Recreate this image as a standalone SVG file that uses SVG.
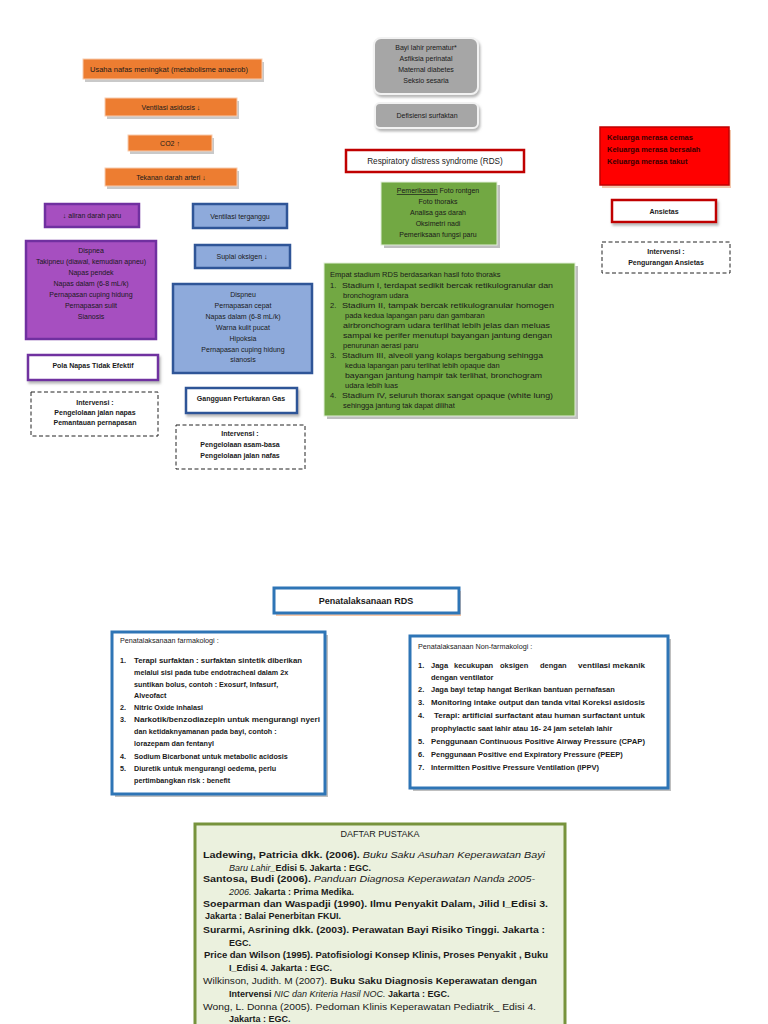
<svg xmlns="http://www.w3.org/2000/svg" width="768" height="1024" viewBox="0 0 768 1024">
<style>
text{font-family:"Liberation Sans","DejaVu Sans",sans-serif;fill:#1a1a1a}
.s7{font-size:7px}
.s75{font-size:7.5px}
.c{text-anchor:middle}
.b{font-weight:bold}
.i{font-style:italic}
.orange{fill:#ed7d31;stroke:#f8cbad;stroke-width:1}
.oshadow{fill:#c9c9c9}
.purple{fill:#a64fc0;stroke:#7030a0;stroke-width:2.5}
.pw{fill:#fff;stroke:#7030a0;stroke-width:2.5}
.blue{fill:#8eaadb;stroke:#2f5597;stroke-width:2.5}
.bw{fill:#fff;stroke:#2f5597;stroke-width:2.5}
.dash{fill:#fff;stroke:#222;stroke-width:1;stroke-dasharray:4 2.5}
.gray{fill:#a6a6a6;stroke:#f2f2f2;stroke-width:2}
.green{fill:#72a843;stroke:#e2efd9;stroke-width:1}
.gshadow{fill:#bfbfbf}
.rw{fill:#fff;stroke:#c00000;stroke-width:2.5}
.pen{fill:#fff;stroke:#2e75b6;stroke-width:3}
.dp{font-size:9px}
.kel{fill:#3a0000;font-weight:bold}
</style>
<defs>
<filter id="sh" x="-10%" y="-10%" width="130%" height="140%">
<feDropShadow dx="1.5" dy="2.5" stdDeviation="1.2" flood-color="#888" flood-opacity="0.6"/>
</filter>
</defs>

<g id="connectors"></g>

<!-- Orange chain -->
<g id="n-usaha">
<rect class="oshadow" x="85" y="62" width="179" height="20"/>
<rect class="orange" x="83" y="59" width="179" height="20"/>
<text class="s75" x="90" y="72">Usaha nafas meningkat (metabolisme anaerob)</text>
</g>
<g id="n-ventilasi-asidosis">
<rect class="oshadow" x="107" y="101" width="132" height="18"/>
<rect class="orange" x="105" y="98" width="132" height="18"/>
<text class="s7 c" x="171" y="110">Ventilasi asidosis ↓</text>
</g>
<g id="n-co2">
<rect class="oshadow" x="130" y="138" width="84" height="16"/>
<rect class="orange" x="128" y="135" width="84" height="16"/>
<text class="s7 c" x="170" y="146">CO2 ↑</text>
</g>
<g id="n-tekanan">
<rect class="oshadow" x="107" y="171" width="132" height="18"/>
<rect class="orange" x="105" y="168" width="132" height="18"/>
<text class="s7 c" x="171" y="180">Tekanan darah arteri ↓</text>
</g>

<!-- Purple column -->
<g id="n-aliran">
<rect class="purple" x="45" y="204" width="94" height="23"/>
<text class="s7 c" x="92" y="218">↓ aliran darah paru</text>
</g>
<g id="n-gejala-purple">
<rect class="purple" x="26" y="241" width="130" height="98"/>
<text class="s7 c" x="91" y="253">Dispnea</text>
<text class="s7 c" x="91" y="264">Takipneu (diawal, kemudian apneu)</text>
<text class="s7 c" x="91" y="275">Napas pendek</text>
<text class="s7 c" x="91" y="286">Napas dalam (6-8 mL/k)</text>
<text class="s7 c" x="91" y="297">Pernapasan cuping hidung</text>
<text class="s7 c" x="91" y="308">Pernapasan sulit</text>
<text class="s7 c" x="91" y="319">Sianosis</text>
</g>
<g id="n-pola-napas">
<rect class="pw" x="28" y="355" width="130" height="25" filter="url(#sh)"/>
<text class="s7 c b" x="93" y="368">Pola Napas Tidak Efektif</text>
</g>
<g id="n-intervensi-1">
<rect class="dash" x="31" y="392" width="127" height="44"/>
<text class="s7 c b" x="95" y="405">Intervensi :</text>
<text class="s7 c b" x="95" y="415">Pengelolaan jalan napas</text>
<text class="s7 c b" x="95" y="425">Pemantauan pernapasan</text>
</g>

<!-- Blue column -->
<g id="n-ventilasi-terganggu">
<rect class="blue" x="193" y="204" width="94" height="24"/>
<text class="s7 c" x="240" y="219">Ventilasi terganggu</text>
</g>
<g id="n-suplai">
<rect class="blue" x="195" y="245" width="95" height="23"/>
<text class="s7 c" x="242" y="259">Suplai oksigen ↓</text>
</g>
<g id="n-gejala-blue">
<rect class="blue" x="173" y="284" width="139" height="89"/>
<text class="s7 c" x="243" y="297">Dispneu</text>
<text class="s7 c" x="243" y="308">Pernapasan cepat</text>
<text class="s7 c" x="243" y="319">Napas dalam (6-8 mL/k)</text>
<text class="s7 c" x="243" y="330">Warna kulit pucat</text>
<text class="s7 c" x="243" y="341">Hipoksia</text>
<text class="s7 c" x="243" y="352">Pernapasan cuping hidung</text>
<text class="s7 c" x="243" y="362">sianosis</text>
</g>
<g id="n-gangguan">
<rect class="bw" x="186" y="388" width="111" height="25" filter="url(#sh)"/>
<text class="s7 c b" x="241" y="401">Gangguan Pertukaran Gas</text>
</g>
<g id="n-intervensi-2">
<rect class="dash" x="176" y="425" width="129" height="44"/>
<text class="s7 c b" x="240" y="436">Intervensi :</text>
<text class="s7 c b" x="240" y="447">Pengelolaan asam-basa</text>
<text class="s7 c b" x="240" y="458">Pengelolaan jalan nafas</text>
</g>

<!-- Center column -->
<g id="n-faktor">
<rect class="gray" x="374" y="38" width="104" height="56" rx="7" filter="url(#sh)"/>
<text class="s7 c" x="426" y="50">Bayi lahir prematur*</text>
<text class="s7 c" x="426" y="61">Asfiksia perinatal</text>
<text class="s7 c" x="426" y="72">Maternal diabetes</text>
<text class="s7 c" x="426" y="83">Seksio sesaria</text>
</g>
<g id="n-defisiensi">
<rect class="gray" x="375" y="103" width="103" height="25" rx="5" filter="url(#sh)"/>
<text class="s7 c" x="427" y="118">Defisiensi surfaktan</text>
</g>
<g id="n-rds">
<rect class="rw" x="346" y="150" width="178" height="22"/>
<text class="c" x="435" y="164" style="font-size:8.2px">Respiratory distress syndrome (RDS)</text>
</g>
<g id="n-pemeriksaan">
<rect class="gshadow" x="384" y="185" width="116" height="63"/>
<rect class="green" x="381" y="182" width="116" height="63"/>
<text class="s7 c" x="438" y="193"><tspan text-decoration="underline">Pemeriksaan</tspan> Foto  rontgen</text>
<text class="s7 c" x="438" y="204">Foto thoraks</text>
<text class="s7 c" x="438" y="215">Analisa gas darah</text>
<text class="s7 c" x="438" y="226">Oksimetri nadi</text>
<text class="s7 c" x="438" y="237">Pemeriksaan fungsi paru</text>
</g>
<g id="n-stadium">
<rect class="gshadow" x="327" y="266" width="251" height="153"/>
<rect class="green" x="324" y="263" width="251" height="153"/>
<g class="s75">
<text x="330" y="277">Empat stadium RDS berdasarkan hasil foto thoraks</text>
<text x="330" y="288">1.</text><text x="342" y="288" textLength="211" lengthAdjust="spacingAndGlyphs">Stadium I, terdapat sedikit bercak retikulogranular dan</text>
<text x="343" y="298">bronchogram udara</text>
<text x="330" y="308">2.</text><text x="342" y="308" textLength="212" lengthAdjust="spacingAndGlyphs">Stadium II, tampak bercak retikulogranular homogen</text>
<text x="345" y="318">pada kedua lapangan paru dan gambaran</text>
<text x="343" y="328" textLength="207" lengthAdjust="spacingAndGlyphs">airbronchogram udara terlihat lebih jelas dan meluas</text>
<text x="343" y="338" textLength="209" lengthAdjust="spacingAndGlyphs">sampai ke perifer menutupi bayangan jantung dengan</text>
<text x="343" y="348">penurunan aerasi paru</text>
<text x="330" y="358">3.</text><text x="342" y="358" textLength="201" lengthAdjust="spacingAndGlyphs">Stadium III, alveoli yang kolaps bergabung sehingga</text>
<text x="345" y="368">kedua lapangan paru terlihat lebih opaque dan</text>
<text x="345" y="378" textLength="197" lengthAdjust="spacingAndGlyphs">bayangan jantung hampir tak terlihat, bronchogram</text>
<text x="345" y="388">udara lebih luas</text>
<text x="330" y="398">4.</text><text x="342" y="398" textLength="211" lengthAdjust="spacingAndGlyphs">Stadium IV, seluruh thorax sangat opaque (white lung)</text>
<text x="343" y="408">sehingga jantung tak dapat dilihat</text>
</g>
</g>

<!-- Right column -->
<g id="n-keluarga">
<rect x="602" y="130" width="129" height="58" fill="#e9a074" opacity="0.6"/>
<rect x="600" y="127" width="129" height="58" fill="#ff0000" stroke="#c00000" stroke-width="1.5"/>
<text class="s75 kel" x="607" y="140">Keluarga merasa cemas</text>
<text class="s75 kel" x="607" y="152">Keluarga merasa bersalah</text>
<text class="s75 kel" x="607" y="164">Keluarga merasa takut</text>
</g>
<g id="n-ansietas">
<rect class="rw" x="612" y="200" width="104" height="22" filter="url(#sh)"/>
<text class="s7 c b" x="664" y="214">Ansietas</text>
</g>
<g id="n-intervensi-3">
<rect class="dash" x="602" y="242" width="128" height="31"/>
<text class="s7 c b" x="666" y="254">Intervensi :</text>
<text class="s7 c b" x="666" y="265">Pengurangan Ansietas</text>
</g>

<!-- Penatalaksanaan -->
<g id="n-penatalaksanaan">
<rect x="276" y="591" width="185" height="25" fill="#f4b183" opacity="0.7"/>
<rect class="pen" x="274" y="588" width="185" height="25"/>
<text class="c b" x="366" y="604" style="font-size:9px">Penatalaksanaan RDS</text>
</g>
<g id="n-farmakologi">
<rect x="115" y="635" width="213" height="162" fill="#bfbfbf"/>
<rect class="pen" x="112" y="632" width="213" height="162"/>
<g style="font-size:7.2px">
<text x="120" y="643">Penatalaksanaan farmakologi :</text>
<g class="b">
<text x="120" y="663">1.</text><text x="134" y="663" textLength="168" lengthAdjust="spacingAndGlyphs">Terapi surfaktan : surfaktan sintetik diberikan</text>
<text x="134" y="675">melalui sisi pada tube endotracheal dalam 2x</text>
<text x="134" y="687">suntikan bolus, contoh : Exosurf, Infasurf,</text>
<text x="134" y="698">Alveofact</text>
<text x="120" y="710">2.</text><text x="134" y="710">Nitric Oxide inhalasi</text>
<text x="120" y="722">3.</text><text x="134" y="722" textLength="186" lengthAdjust="spacingAndGlyphs">Narkotik/benzodiazepin untuk mengurangi nyeri</text>
<text x="134" y="734">dan ketidaknyamanan pada bayi, contoh :</text>
<text x="134" y="746">lorazepam dan fentanyl</text>
<text x="120" y="759">4.</text><text x="134" y="759">Sodium Bicarbonat untuk metabolic acidosis</text>
<text x="120" y="771">5.</text><text x="134" y="771">Diuretik untuk mengurangi oedema, perlu</text>
<text x="134" y="783">pertimbangkan risk : benefit</text>
</g>
</g>
</g>
<g id="n-nonfarmakologi">
<rect x="413" y="639" width="258" height="152" fill="#bfbfbf"/>
<rect class="pen" x="410" y="636" width="258" height="152"/>
<g style="font-size:7.2px">
<text x="418" y="649">Penatalaksanaan Non-farmakologi :</text>
<g class="b" style="font-size:7.5px">
<text x="418" y="668">1.</text>
<text x="431" y="668">Jaga</text><text x="454" y="668">kecukupan</text><text x="500" y="668">oksigen</text><text x="540" y="668">dengan</text><text x="578" y="668" textLength="67" lengthAdjust="spacingAndGlyphs">ventilasi mekanik</text>
<text x="431" y="680">dengan ventilator</text>
<text x="418" y="692">2.</text><text x="431" y="692">Jaga bayi tetap hangat Berikan bantuan pernafasan</text>
<text x="418" y="705">3.</text><text x="431" y="705" textLength="214" lengthAdjust="spacingAndGlyphs">Monitoring intake output dan tanda vital Koreksi asidosis</text>
<text x="418" y="718">4.</text><text x="434" y="718" textLength="211" lengthAdjust="spacingAndGlyphs">Terapi: artificial surfactant atau human surfactant untuk</text>
<text x="431" y="731">prophylactic saat lahir atau 16- 24 jam setelah lahir</text>
<text x="418" y="744">5.</text><text x="431" y="744" textLength="214" lengthAdjust="spacingAndGlyphs">Penggunaan Continuous Positive Airway Pressure (CPAP)</text>
<text x="418" y="757">6.</text><text x="431" y="757">Penggunaan Positive end Expiratory Pressure (PEEP)</text>
<text x="418" y="770">7.</text><text x="431" y="770">Intermitten Positive Pressure Ventilation (IPPV)</text>
</g>
</g>
</g>

<!-- Daftar Pustaka -->
<g id="n-daftar-pustaka">
<rect x="195" y="824" width="370" height="220" fill="#ebf1de" stroke="#77933c" stroke-width="3"/>
<text class="c" x="380" y="837" style="font-size:9px">DAFTAR PUSTAKA</text>
<g class="dp">
<text x="203" y="858" textLength="342" lengthAdjust="spacingAndGlyphs"><tspan class="b">Ladewing, Patricia dkk. (2006).</tspan><tspan class="i"> Buku Saku Asuhan Keperawatan Bayi</tspan></text>
<text x="229" y="871"><tspan class="i">Baru Lahir_</tspan><tspan class="b">Edisi 5. Jakarta : EGC.</tspan></text>
<text x="203" y="882" textLength="332" lengthAdjust="spacingAndGlyphs"><tspan class="b">Santosa, Budi (2006).</tspan><tspan class="i"> Panduan Diagnosa Keperawatan Nanda 2005-</tspan></text>
<text x="229" y="895"><tspan class="i">2006.</tspan><tspan class="b"> Jakarta : Prima Medika.</tspan></text>
<text class="b" x="203" y="907" textLength="345" lengthAdjust="spacingAndGlyphs">Soeparman dan Waspadji (1990). Ilmu Penyakit Dalam, Jilid I_Edisi 3.</text>
<text class="b" x="205" y="919">Jakarta : Balai Penerbitan FKUI.</text>
<text class="b" x="203" y="933" textLength="342" lengthAdjust="spacingAndGlyphs">Surarmi, Asrining dkk. (2003). Perawatan Bayi Risiko Tinggi. Jakarta :</text>
<text class="b" x="229" y="946">EGC.</text>
<text class="b" x="204" y="958" textLength="344" lengthAdjust="spacingAndGlyphs">Price dan Wilson (1995). Patofisiologi Konsep Klinis, Proses Penyakit , Buku</text>
<text class="b" x="229" y="971">I_Edisi 4. Jakarta : EGC.</text>
<text x="203" y="984" textLength="334" lengthAdjust="spacingAndGlyphs">Wilkinson, Judith. M (2007).  <tspan class="b">Buku Saku Diagnosis Keperawatan dengan</tspan></text>
<text x="229" y="997"><tspan class="b">Intervensi </tspan><tspan class="i">NIC dan Kriteria Hasil NOC.</tspan><tspan class="b"> Jakarta : EGC.</tspan></text>
<text x="203" y="1010" textLength="333" lengthAdjust="spacingAndGlyphs">Wong, L. Donna (2005). Pedoman Klinis Keperawatan Pediatrik_ Edisi 4.</text>
<text class="b" x="229" y="1022">Jakarta : EGC.</text>
</g>
</g>
</svg>
